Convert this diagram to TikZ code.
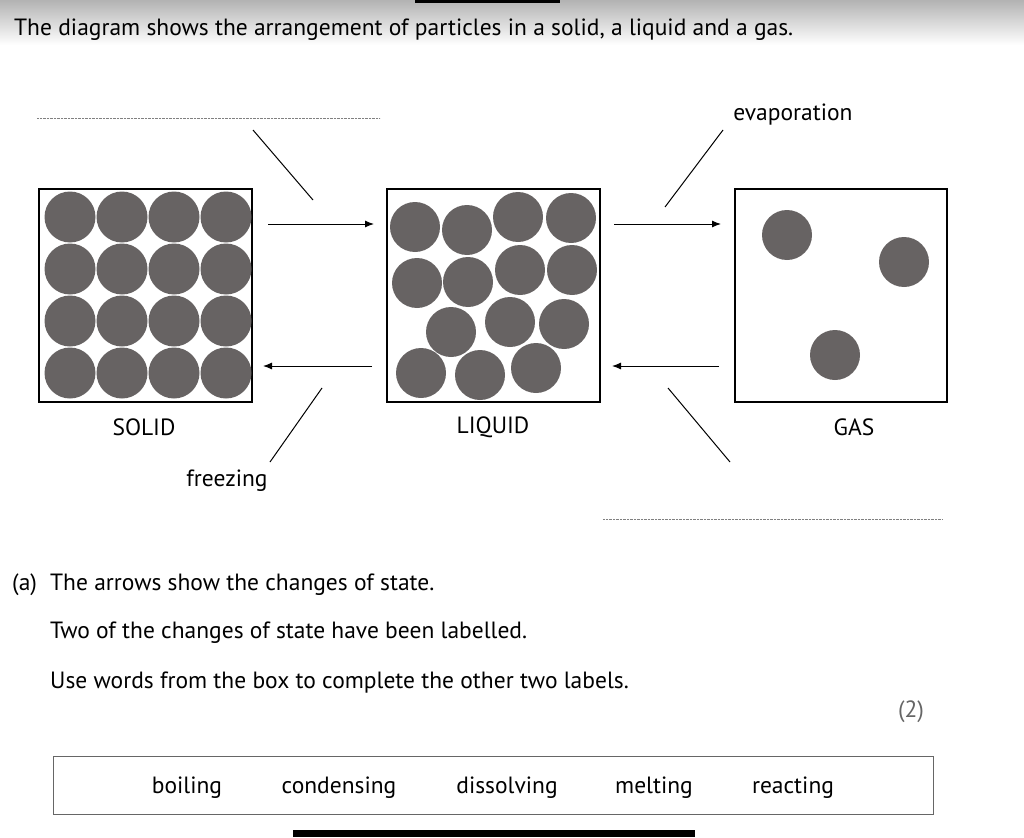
\documentclass[tikz,border=0pt]{standalone}
\usepackage{fontspec}
\setmainfont{PT Sans}
\usetikzlibrary{positioning,arrows.meta}
\definecolor{particle}{HTML}{676363}
\tikzset{
  particle/.style={fill=particle,draw=none},
  statebox/.style={draw,line width=1.5pt},
  change/.style={-{Latex[length=9pt,width=7pt]},line width=1pt},
  txt/.style={font=\fontsize{23.5}{26}\selectfont,inner sep=0pt}
}
\begin{document}
\begin{tikzpicture}[x=1pt,y=-1pt]
        \useasboundingbox (0,0) rectangle (1024,837);
        % screenshot edges
        \shade[top color=black!30,bottom color=white] (0,0) rectangle (1024,45);
        \fill[black] (415,0) rectangle (560,3);
        \fill[black] (293,830) rectangle (695,837);

        \node[txt,anchor=west] (title) at (14,30) {The diagram shows the arrangement of particles in a solid, a liquid and a gas.};

        % the three boxes
        \draw[statebox] (39,189) rectangle (252,402);
        \draw[statebox] (387,189) rectangle (600,402);
        \draw[statebox] (735,189) rectangle (947,402);

        % solid
        \foreach \i in {0,...,3}
            \foreach \j in {0,...,3}
                \fill[particle] (70+52*\i,217+52*\j) circle(25.5);

        % liquid
        \foreach \x/\y in {415/227,467/230,518/217,571/218,417/283,468/282,520/270,572/270,
                           451/332,510/322,564/324,421/373,480/375,536/368}
                \fill[particle] (\x,\y) circle(25);

        % gas
        \foreach \x/\y in {787/235,904/262,835/355}
                \fill[particle] (\x,\y) circle(25);

        \node[txt] (solid) at (144,427) {SOLID};
        \node[txt] (liquid) at (493,427) {LIQUID};
        \node[txt] (gas) at (854,427) {GAS};

        % the arrows
        \coordinate (s1) at (268,224); \coordinate (l1) at (374,224);
        \coordinate (l2) at (372,366); \coordinate (s2) at (263,366);
        \coordinate (l3) at (614,224); \coordinate (g1) at (721,224);
        \coordinate (g2) at (719,366); \coordinate (l4) at (612,366);
        \draw[change] (s1) -- (l1);
        \draw[change] (l2) -- (s2);
        \draw[change] (l3) -- (g1);
        \draw[change] (g2) -- (l4);

        % label lines
        \draw[line width=1pt] (253,130) -- (313,200);
        \draw[line width=1pt] (322,388) -- (270,462);
        \draw[line width=1pt] (723,130) -- (665,207);
        \draw[line width=1pt] (668,388) -- (730,462);
        \draw[densely dotted,gray] (37,118) -- (380,118);
        \draw[densely dotted,gray] (603,519) -- (943,519);

        \node[txt] (evap) at (793,115) {evaporation};
        \node[txt] (freeze) at (227,481) {freezing};

        % question
        \node[txt,anchor=west] (qa) at (12,585) {(a)};
        \node[txt,anchor=west] (q1) at (50,585) {The arrows show the changes of state.};
        \node[txt,anchor=west] (q2) at (50,633) {Two of the changes of state have been labelled.};
        \node[txt,anchor=west] (q3) at (50,683) {Use words from the box to complete the other two labels.};
        \node[txt,text=black!60] (marks) at (911,712) {(2)};

        \draw[black!60,thick] (53,756) rectangle (933,814);
        \foreach \x/\w in {187/boiling,339/condensing,507/dissolving,654/melting,793/reacting}
                \node[txt] (w\w) at (\x,788) {\w};
\end{tikzpicture}
\end{document}
